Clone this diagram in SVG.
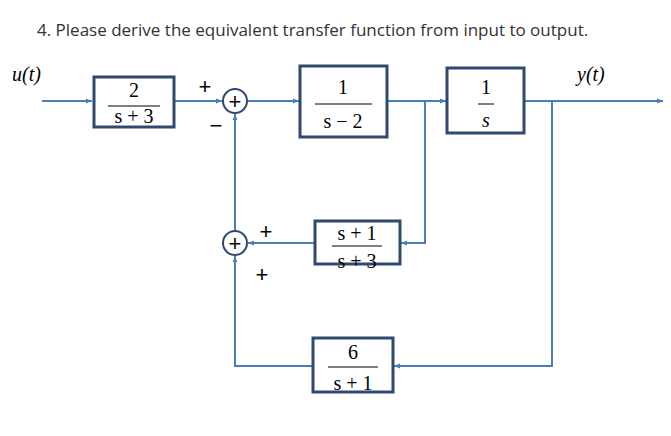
<svg xmlns="http://www.w3.org/2000/svg" width="671" height="436" viewBox="0 0 671 436">
<defs>
<marker id="ah" viewBox="0 0 10 10" refX="10" refY="5" markerWidth="6" markerHeight="6" orient="auto" markerUnits="userSpaceOnUse"><path d="M0,1 L10,5 L0,9 z" fill="#4a7ebb"/></marker>
</defs>
<style>
.title{font-family:"Open Sans","Liberation Sans",sans-serif;font-size:17px;fill:#333}
.blk{fill:#fff;stroke:#2f4a6e;stroke-width:3}
.m{font-family:"Liberation Serif",serif;font-size:20px;fill:#000;text-anchor:middle}
.v{font-family:"Liberation Serif",serif;font-size:20px;font-style:italic;fill:#000}
.frac{stroke:#000;stroke-width:1}
.ln{fill:none;stroke:#4a7ebb;stroke-width:2}
.sum{fill:#fff;stroke:#2f4a6e;stroke-width:2}
.sg{font-family:"Liberation Sans",sans-serif;font-size:22px;fill:#000;text-anchor:middle}
</style>
<rect width="671" height="436" fill="#fff"/>
<text class="title" x="37" y="36">4. Please derive the equivalent transfer function from input to output.</text>
<text class="v" x="12" y="81">u(t)</text>
<text class="v" x="577" y="81">y(t)</text>
<g id="connectors">
<path class="ln" d="M42,101 H92" marker-end="url(#ah)"/>
<path class="ln" d="M174,101 H222" marker-end="url(#ah)"/>
<path class="ln" d="M247,101 H299" marker-end="url(#ah)"/>
<path class="ln" d="M387,101 H446" marker-end="url(#ah)"/>
<path class="ln" d="M524,101 H663" marker-end="url(#ah)"/>
<path class="ln" d="M425,101 V243 H401" marker-end="url(#ah)"/>
<path class="ln" d="M315,243 H248" marker-end="url(#ah)"/>
<path class="ln" d="M235,231 V114" marker-end="url(#ah)"/>
<path class="ln" d="M552,101 V366 H394" marker-end="url(#ah)"/>
<path class="ln" d="M313,366 H235 V256" marker-end="url(#ah)"/>
</g>
<g id="b1"><rect class="blk" x="94" y="77" width="80" height="50"/><text class="m" x="134" y="97">2</text><line class="frac" x1="108" y1="106" x2="160" y2="106"/><text class="m" x="134" y="123">s + 3</text></g>
<g id="b2"><rect class="blk" x="300" y="66" width="87" height="71"/><text class="m" x="343" y="94">1</text><line class="frac" x1="315" y1="104" x2="372" y2="104"/><text class="m" x="343" y="128">s − 2</text></g>
<g id="b3"><rect class="blk" x="447" y="68" width="77" height="65"/><text class="m" x="486" y="94">1</text><line class="frac" x1="478" y1="104" x2="494" y2="104"/><text class="m" x="486" y="127" font-style="italic">s</text></g>
<g id="b4"><rect class="blk" x="315" y="221" width="85" height="43"/><text class="m" x="357" y="240">s + 1</text><line class="frac" x1="332" y1="246" x2="382" y2="246"/><text class="m" x="357" y="268">s + 3</text></g>
<g id="b5"><rect class="blk" x="313" y="338" width="80" height="54"/><text class="m" x="353" y="359">6</text><line class="frac" x1="328" y1="367" x2="378" y2="367"/><text class="m" x="353" y="390">s + 1</text></g>
<g id="sum1"><circle class="sum" cx="235" cy="101" r="12"/><text class="sg" x="235" y="109">+</text><text class="sg" x="205" y="94">+</text><text class="sg" x="216" y="133">−</text></g>
<g id="sum2"><circle class="sum" cx="235" cy="243" r="12"/><text class="sg" x="235" y="251">+</text><text class="sg" x="266" y="239">+</text><text class="sg" x="262" y="282">+</text></g>
</svg>
